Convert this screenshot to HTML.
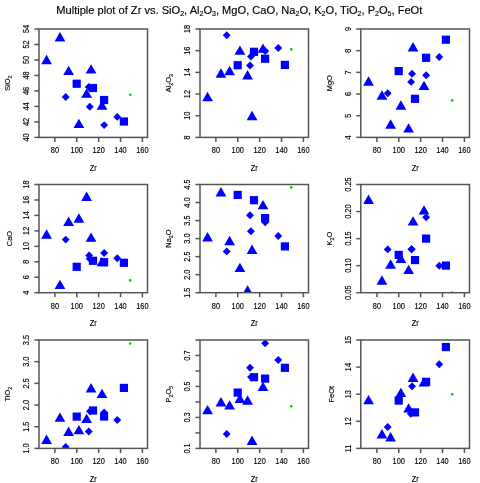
<!DOCTYPE html>
<html><head><meta charset="utf-8"><style>
html,body{margin:0;padding:0;background:#fff;width:480px;height:483px;overflow:hidden}
svg{display:block;will-change:transform}
text{stroke:#000;stroke-width:0.15px}
</style></head><body>
<svg width="480" height="483" viewBox="0 0 480 483" font-family="'Liberation Sans', sans-serif" fill="#000">
<rect width="480" height="483" fill="#fff"/>
<text x="239.3" y="14" text-anchor="middle" font-size="11.1">Multiple plot of Zr vs. SiO<tspan font-size="7.0" dy="2.2">2</tspan><tspan font-size="11.1" dy="-2.2">, Al</tspan><tspan font-size="7.0" dy="2.2">2</tspan><tspan font-size="11.1" dy="-2.2">O</tspan><tspan font-size="7.0" dy="2.2">3</tspan><tspan font-size="11.1" dy="-2.2">, MgO, CaO, Na</tspan><tspan font-size="7.0" dy="2.2">2</tspan><tspan font-size="11.1" dy="-2.2">O, K</tspan><tspan font-size="7.0" dy="2.2">2</tspan><tspan font-size="11.1" dy="-2.2">O, TiO</tspan><tspan font-size="7.0" dy="2.2">2</tspan><tspan font-size="11.1" dy="-2.2">, P</tspan><tspan font-size="7.0" dy="2.2">2</tspan><tspan font-size="11.1" dy="-2.2">O</tspan><tspan font-size="7.0" dy="2.2">5</tspan><tspan font-size="11.1" dy="-2.2">, FeOt</tspan></text>
<clipPath id="c0"><rect x="39.0" y="29.0" width="108.50" height="108.40"/></clipPath>
<g fill="#0000ff" clip-path="url(#c0)">
<path d="M59.95 32.08L65.34 41.41L54.56 41.41Z"/>
<path d="M46.55 54.83L51.94 64.16L41.16 64.16Z"/>
<path d="M68.60 65.68L73.99 75.01L63.21 75.01Z"/>
<path d="M91.05 64.18L96.44 73.51L85.66 73.51Z"/>
<rect x="72.60" y="79.65" width="8.20" height="8.20"/>
<path d="M84.85 87.00L88.80 83.05L92.75 87.00L88.80 90.95Z"/>
<rect x="88.90" y="83.90" width="8.20" height="8.20"/>
<path d="M86.60 88.48L91.99 97.81L81.21 97.81Z"/>
<path d="M61.75 97.05L65.70 93.10L69.65 97.05L65.70 101.00Z"/>
<rect x="100.00" y="95.90" width="8.20" height="8.20"/>
<path d="M102.00 100.33L107.39 109.66L96.61 109.66Z"/>
<path d="M85.85 106.70L89.80 102.75L93.75 106.70L89.80 110.65Z"/>
<path d="M113.30 116.90L117.25 112.95L121.20 116.90L117.25 120.85Z"/>
<rect x="119.80" y="117.40" width="8.20" height="8.20"/>
<path d="M78.90 118.68L84.29 128.01L73.51 128.01Z"/>
<path d="M100.20 125.10L104.15 121.15L108.10 125.10L104.15 129.05Z"/>
<circle cx="130.20" cy="94.70" r="1.3" fill="#00cd00"/>
</g>
<rect x="39.0" y="29.0" width="108.50" height="108.40" fill="none" stroke="#555" stroke-width="1.5"/>
<line x1="54.9" y1="137.4" x2="54.9" y2="142.00" stroke="#555" stroke-width="1.5"/>
<text transform="translate(54.9,153.30) scale(0.88,1)" text-anchor="middle" font-size="8.4">80</text>
<line x1="76.78" y1="137.4" x2="76.78" y2="142.00" stroke="#555" stroke-width="1.5"/>
<text transform="translate(76.78,153.30) scale(0.88,1)" text-anchor="middle" font-size="8.4">100</text>
<line x1="98.65" y1="137.4" x2="98.65" y2="142.00" stroke="#555" stroke-width="1.5"/>
<text transform="translate(98.65,153.30) scale(0.88,1)" text-anchor="middle" font-size="8.4">120</text>
<line x1="120.53" y1="137.4" x2="120.53" y2="142.00" stroke="#555" stroke-width="1.5"/>
<text transform="translate(120.53,153.30) scale(0.88,1)" text-anchor="middle" font-size="8.4">140</text>
<line x1="142.4" y1="137.4" x2="142.4" y2="142.00" stroke="#555" stroke-width="1.5"/>
<text transform="translate(142.4,153.30) scale(0.88,1)" text-anchor="middle" font-size="8.4">160</text>
<text transform="translate(93.25,170.50) scale(0.88,1)" text-anchor="middle" font-size="8.4">Zr</text>
<line x1="34.40" y1="137.40" x2="39.0" y2="137.40" stroke="#555" stroke-width="1.5"/>
<text transform="translate(29.20,137.40) rotate(-90) scale(0.88,1)" text-anchor="middle" font-size="8.4">40</text>
<line x1="34.40" y1="121.91" x2="39.0" y2="121.91" stroke="#555" stroke-width="1.5"/>
<text transform="translate(29.20,121.91) rotate(-90) scale(0.88,1)" text-anchor="middle" font-size="8.4">42</text>
<line x1="34.40" y1="106.43" x2="39.0" y2="106.43" stroke="#555" stroke-width="1.5"/>
<text transform="translate(29.20,106.43) rotate(-90) scale(0.88,1)" text-anchor="middle" font-size="8.4">44</text>
<line x1="34.40" y1="90.94" x2="39.0" y2="90.94" stroke="#555" stroke-width="1.5"/>
<text transform="translate(29.20,90.94) rotate(-90) scale(0.88,1)" text-anchor="middle" font-size="8.4">46</text>
<line x1="34.40" y1="75.46" x2="39.0" y2="75.46" stroke="#555" stroke-width="1.5"/>
<text transform="translate(29.20,75.46) rotate(-90) scale(0.88,1)" text-anchor="middle" font-size="8.4">48</text>
<line x1="34.40" y1="59.97" x2="39.0" y2="59.97" stroke="#555" stroke-width="1.5"/>
<text transform="translate(29.20,59.97) rotate(-90) scale(0.88,1)" text-anchor="middle" font-size="8.4">50</text>
<line x1="34.40" y1="44.49" x2="39.0" y2="44.49" stroke="#555" stroke-width="1.5"/>
<text transform="translate(29.20,44.49) rotate(-90) scale(0.88,1)" text-anchor="middle" font-size="8.4">52</text>
<line x1="34.40" y1="29.00" x2="39.0" y2="29.00" stroke="#555" stroke-width="1.5"/>
<text transform="translate(29.20,29.00) rotate(-90) scale(0.88,1)" text-anchor="middle" font-size="8.4">54</text>
<text transform="translate(10.00,83.20) rotate(-90) scale(0.95,1)" text-anchor="middle" font-size="7.8">SiO<tspan font-size="5.46" dy="1.7">2</tspan></text>
<clipPath id="c1"><rect x="200.0" y="29.0" width="108.50" height="108.40"/></clipPath>
<g fill="#0000ff" clip-path="url(#c1)">
<path d="M220.95 68.33L226.34 77.66L215.56 77.66Z"/>
<path d="M207.55 91.83L212.94 101.16L202.16 101.16Z"/>
<path d="M229.60 65.83L234.99 75.16L224.21 75.16Z"/>
<path d="M252.05 110.83L257.44 120.16L246.66 120.16Z"/>
<rect x="233.60" y="61.10" width="8.20" height="8.20"/>
<path d="M246.05 65.45L250.00 61.50L253.95 65.45L250.00 69.40Z"/>
<rect x="249.90" y="47.70" width="8.20" height="8.20"/>
<path d="M247.60 70.08L252.99 79.41L242.21 79.41Z"/>
<path d="M222.75 35.30L226.70 31.35L230.65 35.30L226.70 39.25Z"/>
<rect x="261.00" y="54.65" width="8.20" height="8.20"/>
<path d="M263.00 43.43L268.39 52.76L257.61 52.76Z"/>
<path d="M247.05 56.50L251.00 52.55L254.95 56.50L251.00 60.45Z"/>
<path d="M274.30 48.00L278.25 44.05L282.20 48.00L278.25 51.95Z"/>
<rect x="280.80" y="60.80" width="8.20" height="8.20"/>
<path d="M239.90 45.48L245.29 54.81L234.51 54.81Z"/>
<path d="M261.20 51.00L265.15 47.05L269.10 51.00L265.15 54.95Z"/>
<circle cx="291.20" cy="49.40" r="1.3" fill="#00cd00"/>
</g>
<rect x="200.0" y="29.0" width="108.50" height="108.40" fill="none" stroke="#555" stroke-width="1.5"/>
<line x1="215.9" y1="137.4" x2="215.9" y2="142.00" stroke="#555" stroke-width="1.5"/>
<text transform="translate(215.9,153.30) scale(0.88,1)" text-anchor="middle" font-size="8.4">80</text>
<line x1="237.78" y1="137.4" x2="237.78" y2="142.00" stroke="#555" stroke-width="1.5"/>
<text transform="translate(237.78,153.30) scale(0.88,1)" text-anchor="middle" font-size="8.4">100</text>
<line x1="259.65" y1="137.4" x2="259.65" y2="142.00" stroke="#555" stroke-width="1.5"/>
<text transform="translate(259.65,153.30) scale(0.88,1)" text-anchor="middle" font-size="8.4">120</text>
<line x1="281.52" y1="137.4" x2="281.52" y2="142.00" stroke="#555" stroke-width="1.5"/>
<text transform="translate(281.52,153.30) scale(0.88,1)" text-anchor="middle" font-size="8.4">140</text>
<line x1="303.4" y1="137.4" x2="303.4" y2="142.00" stroke="#555" stroke-width="1.5"/>
<text transform="translate(303.4,153.30) scale(0.88,1)" text-anchor="middle" font-size="8.4">160</text>
<text transform="translate(254.25,170.50) scale(0.88,1)" text-anchor="middle" font-size="8.4">Zr</text>
<line x1="195.40" y1="137.40" x2="200.0" y2="137.40" stroke="#555" stroke-width="1.5"/>
<text transform="translate(190.20,137.40) rotate(-90) scale(0.88,1)" text-anchor="middle" font-size="8.4">8</text>
<line x1="195.40" y1="115.72" x2="200.0" y2="115.72" stroke="#555" stroke-width="1.5"/>
<text transform="translate(190.20,115.72) rotate(-90) scale(0.88,1)" text-anchor="middle" font-size="8.4">10</text>
<line x1="195.40" y1="94.04" x2="200.0" y2="94.04" stroke="#555" stroke-width="1.5"/>
<text transform="translate(190.20,94.04) rotate(-90) scale(0.88,1)" text-anchor="middle" font-size="8.4">12</text>
<line x1="195.40" y1="72.36" x2="200.0" y2="72.36" stroke="#555" stroke-width="1.5"/>
<text transform="translate(190.20,72.36) rotate(-90) scale(0.88,1)" text-anchor="middle" font-size="8.4">14</text>
<line x1="195.40" y1="50.68" x2="200.0" y2="50.68" stroke="#555" stroke-width="1.5"/>
<text transform="translate(190.20,50.68) rotate(-90) scale(0.88,1)" text-anchor="middle" font-size="8.4">16</text>
<line x1="195.40" y1="29.00" x2="200.0" y2="29.00" stroke="#555" stroke-width="1.5"/>
<text transform="translate(190.20,29.00) rotate(-90) scale(0.88,1)" text-anchor="middle" font-size="8.4">18</text>
<text transform="translate(171.00,83.20) rotate(-90) scale(0.95,1)" text-anchor="middle" font-size="7.8">Al<tspan font-size="5.46" dy="1.7">2</tspan><tspan font-size="7.8" dy="-1.7">O</tspan><tspan font-size="5.46" dy="1.7">3</tspan></text>
<clipPath id="c2"><rect x="360.8" y="29.0" width="108.70" height="108.40"/></clipPath>
<g fill="#0000ff" clip-path="url(#c2)">
<path d="M381.95 90.33L387.34 99.66L376.56 99.66Z"/>
<path d="M368.55 76.33L373.94 85.66L363.16 85.66Z"/>
<path d="M390.60 119.33L395.99 128.66L385.21 128.66Z"/>
<path d="M413.05 42.08L418.44 51.41L407.66 51.41Z"/>
<rect x="394.60" y="67.00" width="8.20" height="8.20"/>
<path d="M407.15 81.90L411.10 77.95L415.05 81.90L411.10 85.85Z"/>
<rect x="410.90" y="94.70" width="8.20" height="8.20"/>
<path d="M408.60 123.18L413.99 132.51L403.21 132.51Z"/>
<path d="M383.75 93.30L387.70 89.35L391.65 93.30L387.70 97.25Z"/>
<rect x="422.00" y="53.70" width="8.20" height="8.20"/>
<path d="M424.00 80.78L429.39 90.11L418.61 90.11Z"/>
<path d="M408.11 73.80L412.06 69.85L416.01 73.80L412.06 77.75Z"/>
<path d="M435.30 57.06L439.25 53.11L443.20 57.06L439.25 61.01Z"/>
<rect x="441.80" y="35.60" width="8.20" height="8.20"/>
<path d="M400.90 100.33L406.29 109.66L395.51 109.66Z"/>
<path d="M422.20 75.20L426.15 71.25L430.10 75.20L426.15 79.15Z"/>
<circle cx="452.20" cy="100.40" r="1.3" fill="#00cd00"/>
</g>
<rect x="360.8" y="29.0" width="108.70" height="108.40" fill="none" stroke="#555" stroke-width="1.5"/>
<line x1="376.9" y1="137.4" x2="376.9" y2="142.00" stroke="#555" stroke-width="1.5"/>
<text transform="translate(376.9,153.30) scale(0.88,1)" text-anchor="middle" font-size="8.4">80</text>
<line x1="398.77" y1="137.4" x2="398.77" y2="142.00" stroke="#555" stroke-width="1.5"/>
<text transform="translate(398.77,153.30) scale(0.88,1)" text-anchor="middle" font-size="8.4">100</text>
<line x1="420.65" y1="137.4" x2="420.65" y2="142.00" stroke="#555" stroke-width="1.5"/>
<text transform="translate(420.65,153.30) scale(0.88,1)" text-anchor="middle" font-size="8.4">120</text>
<line x1="442.52" y1="137.4" x2="442.52" y2="142.00" stroke="#555" stroke-width="1.5"/>
<text transform="translate(442.52,153.30) scale(0.88,1)" text-anchor="middle" font-size="8.4">140</text>
<line x1="464.4" y1="137.4" x2="464.4" y2="142.00" stroke="#555" stroke-width="1.5"/>
<text transform="translate(464.4,153.30) scale(0.88,1)" text-anchor="middle" font-size="8.4">160</text>
<text transform="translate(415.15,170.50) scale(0.88,1)" text-anchor="middle" font-size="8.4">Zr</text>
<line x1="356.20" y1="137.40" x2="360.8" y2="137.40" stroke="#555" stroke-width="1.5"/>
<text transform="translate(351.00,137.40) rotate(-90) scale(0.88,1)" text-anchor="middle" font-size="8.4">4</text>
<line x1="356.20" y1="115.72" x2="360.8" y2="115.72" stroke="#555" stroke-width="1.5"/>
<text transform="translate(351.00,115.72) rotate(-90) scale(0.88,1)" text-anchor="middle" font-size="8.4">5</text>
<line x1="356.20" y1="94.04" x2="360.8" y2="94.04" stroke="#555" stroke-width="1.5"/>
<text transform="translate(351.00,94.04) rotate(-90) scale(0.88,1)" text-anchor="middle" font-size="8.4">6</text>
<line x1="356.20" y1="72.36" x2="360.8" y2="72.36" stroke="#555" stroke-width="1.5"/>
<text transform="translate(351.00,72.36) rotate(-90) scale(0.88,1)" text-anchor="middle" font-size="8.4">7</text>
<line x1="356.20" y1="50.68" x2="360.8" y2="50.68" stroke="#555" stroke-width="1.5"/>
<text transform="translate(351.00,50.68) rotate(-90) scale(0.88,1)" text-anchor="middle" font-size="8.4">8</text>
<line x1="356.20" y1="29.00" x2="360.8" y2="29.00" stroke="#555" stroke-width="1.5"/>
<text transform="translate(351.00,29.00) rotate(-90) scale(0.88,1)" text-anchor="middle" font-size="8.4">9</text>
<text transform="translate(332.00,83.20) rotate(-90) scale(0.95,1)" text-anchor="middle" font-size="7.8">MgO</text>
<clipPath id="c3"><rect x="39.0" y="184.5" width="108.50" height="108.20"/></clipPath>
<g fill="#0000ff" clip-path="url(#c3)">
<path d="M59.95 279.68L65.34 289.01L54.56 289.01Z"/>
<path d="M46.55 229.33L51.94 238.66L41.16 238.66Z"/>
<path d="M68.60 216.58L73.99 225.91L63.21 225.91Z"/>
<path d="M91.05 232.48L96.44 241.81L85.66 241.81Z"/>
<rect x="72.60" y="262.70" width="8.20" height="8.20"/>
<path d="M85.25 255.40L89.20 251.45L93.15 255.40L89.20 259.35Z"/>
<rect x="88.90" y="256.70" width="8.20" height="8.20"/>
<path d="M86.60 191.58L91.99 200.91L81.21 200.91Z"/>
<path d="M61.75 239.60L65.70 235.65L69.65 239.60L65.70 243.55Z"/>
<rect x="100.00" y="258.10" width="8.20" height="8.20"/>
<path d="M102.00 256.83L107.39 266.16L96.61 266.16Z"/>
<path d="M85.75 258.75L89.70 254.80L93.65 258.75L89.70 262.70Z"/>
<path d="M113.30 258.30L117.25 254.35L121.20 258.30L117.25 262.25Z"/>
<rect x="119.80" y="258.70" width="8.20" height="8.20"/>
<path d="M78.90 213.33L84.29 222.66L73.51 222.66Z"/>
<path d="M100.20 253.00L104.15 249.05L108.10 253.00L104.15 256.95Z"/>
<circle cx="130.20" cy="280.40" r="1.3" fill="#00cd00"/>
</g>
<rect x="39.0" y="184.5" width="108.50" height="108.20" fill="none" stroke="#555" stroke-width="1.5"/>
<line x1="54.9" y1="292.7" x2="54.9" y2="297.30" stroke="#555" stroke-width="1.5"/>
<text transform="translate(54.9,308.60) scale(0.88,1)" text-anchor="middle" font-size="8.4">80</text>
<line x1="76.78" y1="292.7" x2="76.78" y2="297.30" stroke="#555" stroke-width="1.5"/>
<text transform="translate(76.78,308.60) scale(0.88,1)" text-anchor="middle" font-size="8.4">100</text>
<line x1="98.65" y1="292.7" x2="98.65" y2="297.30" stroke="#555" stroke-width="1.5"/>
<text transform="translate(98.65,308.60) scale(0.88,1)" text-anchor="middle" font-size="8.4">120</text>
<line x1="120.53" y1="292.7" x2="120.53" y2="297.30" stroke="#555" stroke-width="1.5"/>
<text transform="translate(120.53,308.60) scale(0.88,1)" text-anchor="middle" font-size="8.4">140</text>
<line x1="142.4" y1="292.7" x2="142.4" y2="297.30" stroke="#555" stroke-width="1.5"/>
<text transform="translate(142.4,308.60) scale(0.88,1)" text-anchor="middle" font-size="8.4">160</text>
<text transform="translate(93.25,325.80) scale(0.88,1)" text-anchor="middle" font-size="8.4">Zr</text>
<line x1="34.40" y1="292.70" x2="39.0" y2="292.70" stroke="#555" stroke-width="1.5"/>
<text transform="translate(29.20,292.70) rotate(-90) scale(0.88,1)" text-anchor="middle" font-size="8.4">4</text>
<line x1="34.40" y1="277.24" x2="39.0" y2="277.24" stroke="#555" stroke-width="1.5"/>
<text transform="translate(29.20,277.24) rotate(-90) scale(0.88,1)" text-anchor="middle" font-size="8.4">6</text>
<line x1="34.40" y1="261.79" x2="39.0" y2="261.79" stroke="#555" stroke-width="1.5"/>
<text transform="translate(29.20,261.79) rotate(-90) scale(0.88,1)" text-anchor="middle" font-size="8.4">8</text>
<line x1="34.40" y1="246.33" x2="39.0" y2="246.33" stroke="#555" stroke-width="1.5"/>
<text transform="translate(29.20,246.33) rotate(-90) scale(0.88,1)" text-anchor="middle" font-size="8.4">10</text>
<line x1="34.40" y1="230.87" x2="39.0" y2="230.87" stroke="#555" stroke-width="1.5"/>
<text transform="translate(29.20,230.87) rotate(-90) scale(0.88,1)" text-anchor="middle" font-size="8.4">12</text>
<line x1="34.40" y1="215.41" x2="39.0" y2="215.41" stroke="#555" stroke-width="1.5"/>
<text transform="translate(29.20,215.41) rotate(-90) scale(0.88,1)" text-anchor="middle" font-size="8.4">14</text>
<line x1="34.40" y1="199.96" x2="39.0" y2="199.96" stroke="#555" stroke-width="1.5"/>
<text transform="translate(29.20,199.96) rotate(-90) scale(0.88,1)" text-anchor="middle" font-size="8.4">16</text>
<line x1="34.40" y1="184.50" x2="39.0" y2="184.50" stroke="#555" stroke-width="1.5"/>
<text transform="translate(29.20,184.50) rotate(-90) scale(0.88,1)" text-anchor="middle" font-size="8.4">18</text>
<text transform="translate(11.70,238.60) rotate(-90) scale(0.95,1)" text-anchor="middle" font-size="7.8">CaO</text>
<clipPath id="c4"><rect x="200.0" y="184.5" width="108.50" height="108.20"/></clipPath>
<g fill="#0000ff" clip-path="url(#c4)">
<path d="M220.95 187.08L226.34 196.41L215.56 196.41Z"/>
<path d="M207.55 232.08L212.94 241.41L202.16 241.41Z"/>
<path d="M229.60 235.83L234.99 245.16L224.21 245.16Z"/>
<path d="M252.05 244.58L257.44 253.91L246.66 253.91Z"/>
<rect x="233.60" y="190.84" width="8.20" height="8.20"/>
<path d="M246.95 231.30L250.90 227.35L254.85 231.30L250.90 235.25Z"/>
<rect x="249.90" y="196.10" width="8.20" height="8.20"/>
<path d="M247.60 285.28L252.99 294.61L242.21 294.61Z"/>
<path d="M222.75 251.40L226.70 247.45L230.65 251.40L226.70 255.35Z"/>
<rect x="261.00" y="214.00" width="8.20" height="8.20"/>
<path d="M263.00 199.98L268.39 209.31L257.61 209.31Z"/>
<path d="M246.05 215.20L250.00 211.25L253.95 215.20L250.00 219.15Z"/>
<path d="M274.30 236.06L278.25 232.11L282.20 236.06L278.25 240.01Z"/>
<rect x="280.80" y="242.30" width="8.20" height="8.20"/>
<path d="M239.90 262.68L245.29 272.01L234.51 272.01Z"/>
<path d="M261.20 222.35L265.15 218.40L269.10 222.35L265.15 226.30Z"/>
<circle cx="291.20" cy="187.40" r="1.3" fill="#00cd00"/>
</g>
<rect x="200.0" y="184.5" width="108.50" height="108.20" fill="none" stroke="#555" stroke-width="1.5"/>
<line x1="215.9" y1="292.7" x2="215.9" y2="297.30" stroke="#555" stroke-width="1.5"/>
<text transform="translate(215.9,308.60) scale(0.88,1)" text-anchor="middle" font-size="8.4">80</text>
<line x1="237.78" y1="292.7" x2="237.78" y2="297.30" stroke="#555" stroke-width="1.5"/>
<text transform="translate(237.78,308.60) scale(0.88,1)" text-anchor="middle" font-size="8.4">100</text>
<line x1="259.65" y1="292.7" x2="259.65" y2="297.30" stroke="#555" stroke-width="1.5"/>
<text transform="translate(259.65,308.60) scale(0.88,1)" text-anchor="middle" font-size="8.4">120</text>
<line x1="281.52" y1="292.7" x2="281.52" y2="297.30" stroke="#555" stroke-width="1.5"/>
<text transform="translate(281.52,308.60) scale(0.88,1)" text-anchor="middle" font-size="8.4">140</text>
<line x1="303.4" y1="292.7" x2="303.4" y2="297.30" stroke="#555" stroke-width="1.5"/>
<text transform="translate(303.4,308.60) scale(0.88,1)" text-anchor="middle" font-size="8.4">160</text>
<text transform="translate(254.25,325.80) scale(0.88,1)" text-anchor="middle" font-size="8.4">Zr</text>
<line x1="195.40" y1="292.70" x2="200.0" y2="292.70" stroke="#555" stroke-width="1.5"/>
<text transform="translate(190.20,292.70) rotate(-90) scale(0.88,1)" text-anchor="middle" font-size="8.4">1.5</text>
<line x1="195.40" y1="274.67" x2="200.0" y2="274.67" stroke="#555" stroke-width="1.5"/>
<text transform="translate(190.20,274.67) rotate(-90) scale(0.88,1)" text-anchor="middle" font-size="8.4">2.0</text>
<line x1="195.40" y1="256.63" x2="200.0" y2="256.63" stroke="#555" stroke-width="1.5"/>
<text transform="translate(190.20,256.63) rotate(-90) scale(0.88,1)" text-anchor="middle" font-size="8.4">2.5</text>
<line x1="195.40" y1="238.60" x2="200.0" y2="238.60" stroke="#555" stroke-width="1.5"/>
<text transform="translate(190.20,238.60) rotate(-90) scale(0.88,1)" text-anchor="middle" font-size="8.4">3.0</text>
<line x1="195.40" y1="220.57" x2="200.0" y2="220.57" stroke="#555" stroke-width="1.5"/>
<text transform="translate(190.20,220.57) rotate(-90) scale(0.88,1)" text-anchor="middle" font-size="8.4">3.5</text>
<line x1="195.40" y1="202.53" x2="200.0" y2="202.53" stroke="#555" stroke-width="1.5"/>
<text transform="translate(190.20,202.53) rotate(-90) scale(0.88,1)" text-anchor="middle" font-size="8.4">4.0</text>
<line x1="195.40" y1="184.50" x2="200.0" y2="184.50" stroke="#555" stroke-width="1.5"/>
<text transform="translate(190.20,184.50) rotate(-90) scale(0.88,1)" text-anchor="middle" font-size="8.4">4.5</text>
<text transform="translate(171.00,238.60) rotate(-90) scale(0.95,1)" text-anchor="middle" font-size="7.8">Na<tspan font-size="5.46" dy="1.7">2</tspan><tspan font-size="7.8" dy="-1.7">O</tspan></text>
<clipPath id="c5"><rect x="360.8" y="184.5" width="108.70" height="108.20"/></clipPath>
<g fill="#0000ff" clip-path="url(#c5)">
<path d="M381.95 275.33L387.34 284.66L376.56 284.66Z"/>
<path d="M368.55 194.58L373.94 203.91L363.16 203.91Z"/>
<path d="M390.60 259.33L395.99 268.66L385.21 268.66Z"/>
<path d="M413.05 216.18L418.44 225.51L407.66 225.51Z"/>
<rect x="394.60" y="250.80" width="8.20" height="8.20"/>
<path d="M407.65 249.20L411.60 245.25L415.55 249.20L411.60 253.15Z"/>
<rect x="410.90" y="255.96" width="8.20" height="8.20"/>
<path d="M408.60 264.68L413.99 274.01L403.21 274.01Z"/>
<path d="M383.75 249.40L387.70 245.45L391.65 249.40L387.70 253.35Z"/>
<rect x="422.00" y="234.50" width="8.20" height="8.20"/>
<path d="M424.00 205.28L429.39 214.61L418.61 214.61Z"/>
<path d="M407.65 249.25L411.60 245.30L415.55 249.25L411.60 253.20Z"/>
<path d="M435.30 265.70L439.25 261.75L443.20 265.70L439.25 269.65Z"/>
<rect x="441.80" y="261.50" width="8.20" height="8.20"/>
<path d="M400.90 253.68L406.29 263.01L395.51 263.01Z"/>
<path d="M422.20 217.35L426.15 213.40L430.10 217.35L426.15 221.30Z"/>
<circle cx="452.20" cy="292.50" r="1.3" fill="#00cd00"/>
</g>
<rect x="360.8" y="184.5" width="108.70" height="108.20" fill="none" stroke="#555" stroke-width="1.5"/>
<line x1="376.9" y1="292.7" x2="376.9" y2="297.30" stroke="#555" stroke-width="1.5"/>
<text transform="translate(376.9,308.60) scale(0.88,1)" text-anchor="middle" font-size="8.4">80</text>
<line x1="398.77" y1="292.7" x2="398.77" y2="297.30" stroke="#555" stroke-width="1.5"/>
<text transform="translate(398.77,308.60) scale(0.88,1)" text-anchor="middle" font-size="8.4">100</text>
<line x1="420.65" y1="292.7" x2="420.65" y2="297.30" stroke="#555" stroke-width="1.5"/>
<text transform="translate(420.65,308.60) scale(0.88,1)" text-anchor="middle" font-size="8.4">120</text>
<line x1="442.52" y1="292.7" x2="442.52" y2="297.30" stroke="#555" stroke-width="1.5"/>
<text transform="translate(442.52,308.60) scale(0.88,1)" text-anchor="middle" font-size="8.4">140</text>
<line x1="464.4" y1="292.7" x2="464.4" y2="297.30" stroke="#555" stroke-width="1.5"/>
<text transform="translate(464.4,308.60) scale(0.88,1)" text-anchor="middle" font-size="8.4">160</text>
<text transform="translate(415.15,325.80) scale(0.88,1)" text-anchor="middle" font-size="8.4">Zr</text>
<line x1="356.20" y1="292.70" x2="360.8" y2="292.70" stroke="#555" stroke-width="1.5"/>
<text transform="translate(351.00,292.70) rotate(-90) scale(0.88,1)" text-anchor="middle" font-size="8.4">0.05</text>
<line x1="356.20" y1="265.65" x2="360.8" y2="265.65" stroke="#555" stroke-width="1.5"/>
<text transform="translate(351.00,265.65) rotate(-90) scale(0.88,1)" text-anchor="middle" font-size="8.4">0.10</text>
<line x1="356.20" y1="238.60" x2="360.8" y2="238.60" stroke="#555" stroke-width="1.5"/>
<text transform="translate(351.00,238.60) rotate(-90) scale(0.88,1)" text-anchor="middle" font-size="8.4">0.15</text>
<line x1="356.20" y1="211.55" x2="360.8" y2="211.55" stroke="#555" stroke-width="1.5"/>
<text transform="translate(351.00,211.55) rotate(-90) scale(0.88,1)" text-anchor="middle" font-size="8.4">0.20</text>
<line x1="356.20" y1="184.50" x2="360.8" y2="184.50" stroke="#555" stroke-width="1.5"/>
<text transform="translate(351.00,184.50) rotate(-90) scale(0.88,1)" text-anchor="middle" font-size="8.4">0.25</text>
<text transform="translate(331.80,238.60) rotate(-90) scale(0.95,1)" text-anchor="middle" font-size="7.8">K<tspan font-size="5.46" dy="1.7">2</tspan><tspan font-size="7.8" dy="-1.7">O</tspan></text>
<clipPath id="c6"><rect x="39.0" y="340.0" width="108.50" height="108.40"/></clipPath>
<g fill="#0000ff" clip-path="url(#c6)">
<path d="M59.95 412.48L65.34 421.81L54.56 421.81Z"/>
<path d="M46.55 434.58L51.94 443.91L41.16 443.91Z"/>
<path d="M68.60 426.58L73.99 435.91L63.21 435.91Z"/>
<path d="M91.05 383.08L96.44 392.41L85.66 392.41Z"/>
<rect x="72.60" y="412.50" width="8.20" height="8.20"/>
<path d="M86.05 411.30L90.00 407.35L93.95 411.30L90.00 415.25Z"/>
<rect x="88.90" y="406.40" width="8.20" height="8.20"/>
<path d="M86.60 413.68L91.99 423.01L81.21 423.01Z"/>
<path d="M61.75 447.00L65.70 443.05L69.65 447.00L65.70 450.95Z"/>
<rect x="100.00" y="412.40" width="8.20" height="8.20"/>
<path d="M102.00 388.68L107.39 398.01L96.61 398.01Z"/>
<path d="M84.85 431.50L88.80 427.55L92.75 431.50L88.80 435.45Z"/>
<path d="M113.30 420.00L117.25 416.05L121.20 420.00L117.25 423.95Z"/>
<rect x="119.80" y="383.80" width="8.20" height="8.20"/>
<path d="M78.90 424.98L84.29 434.31L73.51 434.31Z"/>
<path d="M100.20 412.40L104.15 408.45L108.10 412.40L104.15 416.35Z"/>
<circle cx="130.20" cy="343.50" r="1.3" fill="#00cd00"/>
</g>
<rect x="39.0" y="340.0" width="108.50" height="108.40" fill="none" stroke="#555" stroke-width="1.5"/>
<line x1="54.9" y1="448.4" x2="54.9" y2="453.00" stroke="#555" stroke-width="1.5"/>
<text transform="translate(54.9,464.30) scale(0.88,1)" text-anchor="middle" font-size="8.4">80</text>
<line x1="76.78" y1="448.4" x2="76.78" y2="453.00" stroke="#555" stroke-width="1.5"/>
<text transform="translate(76.78,464.30) scale(0.88,1)" text-anchor="middle" font-size="8.4">100</text>
<line x1="98.65" y1="448.4" x2="98.65" y2="453.00" stroke="#555" stroke-width="1.5"/>
<text transform="translate(98.65,464.30) scale(0.88,1)" text-anchor="middle" font-size="8.4">120</text>
<line x1="120.53" y1="448.4" x2="120.53" y2="453.00" stroke="#555" stroke-width="1.5"/>
<text transform="translate(120.53,464.30) scale(0.88,1)" text-anchor="middle" font-size="8.4">140</text>
<line x1="142.4" y1="448.4" x2="142.4" y2="453.00" stroke="#555" stroke-width="1.5"/>
<text transform="translate(142.4,464.30) scale(0.88,1)" text-anchor="middle" font-size="8.4">160</text>
<text transform="translate(93.25,481.50) scale(0.88,1)" text-anchor="middle" font-size="8.4">Zr</text>
<line x1="34.40" y1="448.40" x2="39.0" y2="448.40" stroke="#555" stroke-width="1.5"/>
<text transform="translate(29.20,448.40) rotate(-90) scale(0.88,1)" text-anchor="middle" font-size="8.4">1.0</text>
<line x1="34.40" y1="426.72" x2="39.0" y2="426.72" stroke="#555" stroke-width="1.5"/>
<text transform="translate(29.20,426.72) rotate(-90) scale(0.88,1)" text-anchor="middle" font-size="8.4">1.5</text>
<line x1="34.40" y1="405.04" x2="39.0" y2="405.04" stroke="#555" stroke-width="1.5"/>
<text transform="translate(29.20,405.04) rotate(-90) scale(0.88,1)" text-anchor="middle" font-size="8.4">2.0</text>
<line x1="34.40" y1="383.36" x2="39.0" y2="383.36" stroke="#555" stroke-width="1.5"/>
<text transform="translate(29.20,383.36) rotate(-90) scale(0.88,1)" text-anchor="middle" font-size="8.4">2.5</text>
<line x1="34.40" y1="361.68" x2="39.0" y2="361.68" stroke="#555" stroke-width="1.5"/>
<text transform="translate(29.20,361.68) rotate(-90) scale(0.88,1)" text-anchor="middle" font-size="8.4">3.0</text>
<line x1="34.40" y1="340.00" x2="39.0" y2="340.00" stroke="#555" stroke-width="1.5"/>
<text transform="translate(29.20,340.00) rotate(-90) scale(0.88,1)" text-anchor="middle" font-size="8.4">3.5</text>
<text transform="translate(10.00,394.20) rotate(-90) scale(0.95,1)" text-anchor="middle" font-size="7.8">TiO<tspan font-size="5.46" dy="1.7">2</tspan></text>
<clipPath id="c7"><rect x="200.0" y="340.0" width="108.50" height="108.40"/></clipPath>
<g fill="#0000ff" clip-path="url(#c7)">
<path d="M220.95 397.08L226.34 406.41L215.56 406.41Z"/>
<path d="M207.55 404.98L212.94 414.31L202.16 414.31Z"/>
<path d="M229.60 400.18L234.99 409.51L224.21 409.51Z"/>
<path d="M252.05 435.58L257.44 444.91L246.66 444.91Z"/>
<rect x="233.60" y="388.50" width="8.20" height="8.20"/>
<path d="M247.05 377.10L251.00 373.15L254.95 377.10L251.00 381.05Z"/>
<rect x="249.90" y="373.10" width="8.20" height="8.20"/>
<path d="M247.60 395.33L252.99 404.66L242.21 404.66Z"/>
<path d="M222.75 434.06L226.70 430.11L230.65 434.06L226.70 438.01Z"/>
<rect x="261.00" y="374.50" width="8.20" height="8.20"/>
<path d="M263.00 381.68L268.39 391.01L257.61 391.01Z"/>
<path d="M246.05 367.80L250.00 363.85L253.95 367.80L250.00 371.75Z"/>
<path d="M274.30 360.06L278.25 356.11L282.20 360.06L278.25 364.01Z"/>
<rect x="280.80" y="363.70" width="8.20" height="8.20"/>
<path d="M239.90 393.68L245.29 403.01L234.51 403.01Z"/>
<path d="M261.20 343.25L265.15 339.30L269.10 343.25L265.15 347.20Z"/>
<circle cx="291.20" cy="406.25" r="1.3" fill="#00cd00"/>
</g>
<rect x="200.0" y="340.0" width="108.50" height="108.40" fill="none" stroke="#555" stroke-width="1.5"/>
<line x1="215.9" y1="448.4" x2="215.9" y2="453.00" stroke="#555" stroke-width="1.5"/>
<text transform="translate(215.9,464.30) scale(0.88,1)" text-anchor="middle" font-size="8.4">80</text>
<line x1="237.78" y1="448.4" x2="237.78" y2="453.00" stroke="#555" stroke-width="1.5"/>
<text transform="translate(237.78,464.30) scale(0.88,1)" text-anchor="middle" font-size="8.4">100</text>
<line x1="259.65" y1="448.4" x2="259.65" y2="453.00" stroke="#555" stroke-width="1.5"/>
<text transform="translate(259.65,464.30) scale(0.88,1)" text-anchor="middle" font-size="8.4">120</text>
<line x1="281.52" y1="448.4" x2="281.52" y2="453.00" stroke="#555" stroke-width="1.5"/>
<text transform="translate(281.52,464.30) scale(0.88,1)" text-anchor="middle" font-size="8.4">140</text>
<line x1="303.4" y1="448.4" x2="303.4" y2="453.00" stroke="#555" stroke-width="1.5"/>
<text transform="translate(303.4,464.30) scale(0.88,1)" text-anchor="middle" font-size="8.4">160</text>
<text transform="translate(254.25,481.50) scale(0.88,1)" text-anchor="middle" font-size="8.4">Zr</text>
<line x1="195.40" y1="448.40" x2="200.0" y2="448.40" stroke="#555" stroke-width="1.5"/>
<text transform="translate(190.20,448.40) rotate(-90) scale(0.88,1)" text-anchor="middle" font-size="8.4">0.1</text>
<line x1="195.40" y1="432.91" x2="200.0" y2="432.91" stroke="#555" stroke-width="1.5"/>
<line x1="195.40" y1="417.43" x2="200.0" y2="417.43" stroke="#555" stroke-width="1.5"/>
<text transform="translate(190.20,417.43) rotate(-90) scale(0.88,1)" text-anchor="middle" font-size="8.4">0.3</text>
<line x1="195.40" y1="401.94" x2="200.0" y2="401.94" stroke="#555" stroke-width="1.5"/>
<line x1="195.40" y1="386.46" x2="200.0" y2="386.46" stroke="#555" stroke-width="1.5"/>
<text transform="translate(190.20,386.46) rotate(-90) scale(0.88,1)" text-anchor="middle" font-size="8.4">0.5</text>
<line x1="195.40" y1="370.97" x2="200.0" y2="370.97" stroke="#555" stroke-width="1.5"/>
<line x1="195.40" y1="355.49" x2="200.0" y2="355.49" stroke="#555" stroke-width="1.5"/>
<text transform="translate(190.20,355.49) rotate(-90) scale(0.88,1)" text-anchor="middle" font-size="8.4">0.7</text>
<line x1="195.40" y1="340.00" x2="200.0" y2="340.00" stroke="#555" stroke-width="1.5"/>
<text transform="translate(171.00,394.20) rotate(-90) scale(0.95,1)" text-anchor="middle" font-size="7.8">P<tspan font-size="5.46" dy="1.7">2</tspan><tspan font-size="7.8" dy="-1.7">O</tspan><tspan font-size="5.46" dy="1.7">5</tspan></text>
<clipPath id="c8"><rect x="360.8" y="340.0" width="108.70" height="108.40"/></clipPath>
<g fill="#0000ff" clip-path="url(#c8)">
<path d="M381.95 429.08L387.34 438.41L376.56 438.41Z"/>
<path d="M368.55 394.98L373.94 404.31L363.16 404.31Z"/>
<path d="M390.60 432.08L395.99 441.41L385.21 441.41Z"/>
<path d="M413.05 372.58L418.44 381.91L407.66 381.91Z"/>
<rect x="394.60" y="396.46" width="8.20" height="8.20"/>
<path d="M406.80 413.85L410.75 409.90L414.70 413.85L410.75 417.80Z"/>
<rect x="410.90" y="408.30" width="8.20" height="8.20"/>
<path d="M408.60 403.28L413.99 412.61L403.21 412.61Z"/>
<path d="M383.75 427.06L387.70 423.11L391.65 427.06L387.70 431.01Z"/>
<rect x="422.00" y="377.80" width="8.20" height="8.20"/>
<path d="M424.00 377.08L429.39 386.41L418.61 386.41Z"/>
<path d="M408.11 386.30L412.06 382.35L416.01 386.30L412.06 390.25Z"/>
<path d="M435.30 364.25L439.25 360.30L443.20 364.25L439.25 368.20Z"/>
<rect x="441.80" y="342.96" width="8.20" height="8.20"/>
<path d="M400.90 387.78L406.29 397.11L395.51 397.11Z"/>
<path d="M422.20 381.90L426.15 377.95L430.10 381.90L426.15 385.85Z"/>
<circle cx="452.20" cy="394.25" r="1.3" fill="#00cd00"/>
</g>
<rect x="360.8" y="340.0" width="108.70" height="108.40" fill="none" stroke="#555" stroke-width="1.5"/>
<line x1="376.9" y1="448.4" x2="376.9" y2="453.00" stroke="#555" stroke-width="1.5"/>
<text transform="translate(376.9,464.30) scale(0.88,1)" text-anchor="middle" font-size="8.4">80</text>
<line x1="398.77" y1="448.4" x2="398.77" y2="453.00" stroke="#555" stroke-width="1.5"/>
<text transform="translate(398.77,464.30) scale(0.88,1)" text-anchor="middle" font-size="8.4">100</text>
<line x1="420.65" y1="448.4" x2="420.65" y2="453.00" stroke="#555" stroke-width="1.5"/>
<text transform="translate(420.65,464.30) scale(0.88,1)" text-anchor="middle" font-size="8.4">120</text>
<line x1="442.52" y1="448.4" x2="442.52" y2="453.00" stroke="#555" stroke-width="1.5"/>
<text transform="translate(442.52,464.30) scale(0.88,1)" text-anchor="middle" font-size="8.4">140</text>
<line x1="464.4" y1="448.4" x2="464.4" y2="453.00" stroke="#555" stroke-width="1.5"/>
<text transform="translate(464.4,464.30) scale(0.88,1)" text-anchor="middle" font-size="8.4">160</text>
<text transform="translate(415.15,481.50) scale(0.88,1)" text-anchor="middle" font-size="8.4">Zr</text>
<line x1="356.20" y1="448.40" x2="360.8" y2="448.40" stroke="#555" stroke-width="1.5"/>
<text transform="translate(351.00,448.40) rotate(-90) scale(0.88,1)" text-anchor="middle" font-size="8.4">11</text>
<line x1="356.20" y1="421.30" x2="360.8" y2="421.30" stroke="#555" stroke-width="1.5"/>
<text transform="translate(351.00,421.30) rotate(-90) scale(0.88,1)" text-anchor="middle" font-size="8.4">12</text>
<line x1="356.20" y1="394.20" x2="360.8" y2="394.20" stroke="#555" stroke-width="1.5"/>
<text transform="translate(351.00,394.20) rotate(-90) scale(0.88,1)" text-anchor="middle" font-size="8.4">13</text>
<line x1="356.20" y1="367.10" x2="360.8" y2="367.10" stroke="#555" stroke-width="1.5"/>
<text transform="translate(351.00,367.10) rotate(-90) scale(0.88,1)" text-anchor="middle" font-size="8.4">14</text>
<line x1="356.20" y1="340.00" x2="360.8" y2="340.00" stroke="#555" stroke-width="1.5"/>
<text transform="translate(351.00,340.00) rotate(-90) scale(0.88,1)" text-anchor="middle" font-size="8.4">15</text>
<text transform="translate(333.50,394.20) rotate(-90) scale(0.95,1)" text-anchor="middle" font-size="7.8">FeOt</text>
</svg></body></html>
